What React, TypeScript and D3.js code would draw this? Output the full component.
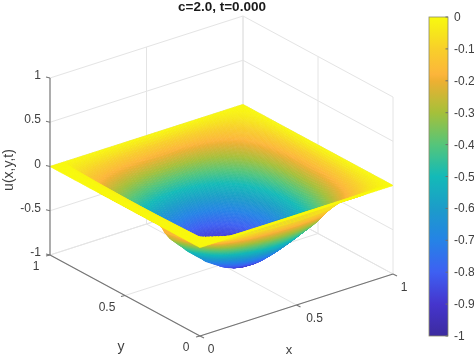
import React from "react";
import * as d3 from "d3";

const titleText = "c=2.0, t=0.000";
const zTicks = [1, 0.5, 0, -0.5, -1];
const xTicks = [0, 0.5, 1];
const yTicks = [0, 0.5, 1];
const barTicks = [0, -0.1, -0.2, -0.3, -0.4, -0.5, -0.6, -0.7, -0.8, -0.9, -1];
const xCoords = [0, 0.04, 0.065, 0.085, 0.1, 0.15, 0.2, 0.25, 0.3, 0.35, 0.4, 0.45, 0.5, 0.55, 0.6, 0.65, 0.7, 0.75, 0.8, 0.85, 0.9, 0.95, 1];
const xDepth = [0, 0.005, 0.02, 0.24, 0.31, 0.44, 0.56, 0.67, 0.77, 0.85, 0.92, 0.97, 0.995, 1, 0.965, 0.905, 0.82, 0.715, 0.595, 0.46, 0.312, 0.156, 0];
const yCoords = [0, 0.018, 0.03, 0.06, 0.1, 0.15, 0.2, 0.25, 0.3, 0.35, 0.4, 0.45, 0.5, 0.55, 0.6, 0.65, 0.7, 0.75, 0.8, 0.85, 0.9, 0.95, 1];
const yDepth = [0, 0.004, 0.11, 0.2, 0.32, 0.46, 0.59, 0.707, 0.809, 0.891, 0.951, 0.988, 1, 0.988, 0.951, 0.891, 0.809, 0.707, 0.588, 0.454, 0.309, 0.156, 0];
const leftSlopeAt = [0, 0.2, 0.37, 1];
const leftSlope = [6, 6, 1.8, 1.8];
const rightSlopeAt = [0, 0.55, 0.75, 1];
const rightSlope = [6, 6, 1.4, 1.4];
const cornerFlatAt = [0.95, 1.05];
const cornerFlat = [0.02, 1];
const colorValues = [0, -0.05, -0.1, -0.18, -0.2, -0.3, -0.4, -0.5, -0.6, -0.7, -0.8, -0.9, -1];
const colorHex = ["#f8f90e", "#f7e51c", "#f8cf2a", "#fcb53b", "#eeb032", "#a5c03a", "#55c57a", "#13bab8", "#1c9cc9", "#2583e6", "#3e60f2", "#4535cd", "#3c2b9f"];

const colorScale = d3.scaleLinear<string>().domain(colorValues).range(colorHex).interpolate(d3.interpolateRgb).clamp(true);
const fx = d3.scaleLinear().domain(xCoords).range(xDepth);
const fy = d3.scaleLinear().domain(yCoords).range(yDepth);
const kLeft = d3.scaleLinear().domain(leftSlopeAt).range(leftSlope).clamp(true);
const kRight = d3.scaleLinear().domain(rightSlopeAt).range(rightSlope).clamp(true);
const corner = d3.scaleLinear().domain(cornerFlatAt).range(cornerFlat).clamp(true);

const sxX = d3.scaleLinear().domain([0, 1]).range([0, 193]);
const sxY = d3.scaleLinear().domain([0, 1]).range([0, -150]);
const syX = d3.scaleLinear().domain([0, 1]).range([0, -62]);
const syY = d3.scaleLinear().domain([0, 1]).range([0, -81]);
const syZ = d3.scaleLinear().domain([-1, 1]).range([0, -177]);
const barY = d3.scaleLinear().domain([0, -1]).range([17, 336]);

function project(x: number, y: number, z: number): [number, number] {
  return [200 + sxX(x) + sxY(y), 336 + syX(x) + syY(y) + syZ(z)];
}
const seg = (a: [number, number], b: [number, number]) => ({ x1: a[0], y1: a[1], x2: b[0], y2: b[1] });

const N = 140;
const surf = (x: number, y: number) => {
  const depth = Math.min(fx(x) * fy(y), kLeft(y) * x, kRight(x) * y);
  return -depth * corner(x / 0.2 + y / 0.13);
};
const cells: { pts: string; fill: string }[] = [];
for (let s = 2 * N - 2; s >= 0; s--) {
  for (let i = 0; i < N; i++) {
    const j = s - i;
    if (j < 0 || j >= N) continue;
    const x0 = i / N, x1 = (i + 1) / N, y0 = j / N, y1 = (j + 1) / N;
    const c = [[x0, y0], [x1, y0], [x1, y1], [x0, y1]];
    const pts = c.map(([a, b]) => project(a, b, surf(a, b)).map((v) => v.toFixed(2)).join(",")).join(" ");
    cells.push({ pts, fill: colorScale(surf((x0 + x1) / 2, (y0 + y1) / 2)) });
  }
}

const gridColor = "#e4e4e4";
const axisColor = "#747474";
const textColor = "#404040";
const fmt = (v: number) => String(v);

export default function App() {
  const gridLines: { x1: number; y1: number; x2: number; y2: number }[] = [];
  zTicks.forEach((z) => {
    gridLines.push(seg(project(0, 1, z), project(1, 1, z)));
    gridLines.push(seg(project(1, 1, z), project(1, 0, z)));
  });
  xTicks.forEach((x) => {
    gridLines.push(seg(project(x, 1, -1), project(x, 1, 1)));
    gridLines.push(seg(project(x, 0, -1), project(x, 1, -1)));
  });
  yTicks.forEach((y) => {
    gridLines.push(seg(project(1, y, -1), project(1, y, 1)));
    gridLines.push(seg(project(0, y, -1), project(1, y, -1)));
  });
  const axisSegs = [
    seg(project(0, 1, -1), project(0, 1, 1)),
    seg(project(0, 1, -1), project(0, 0, -1)),
    seg(project(0, 0, -1), project(1, 0, -1)),
  ];
  const tickSegs: { x1: number; y1: number; x2: number; y2: number }[] = [];
  zTicks.forEach((z) => {
    const p = project(0, 1, z);
    tickSegs.push(seg(p, [p[0] - 4, p[1] - 1]));
  });
  xTicks.forEach((x) => {
    const p = project(x, 0, -1);
    tickSegs.push(seg(p, [p[0] + 4, p[1] + 2]));
  });
  yTicks.forEach((y) => {
    const p = project(0, y, -1);
    tickSegs.push(seg(p, [p[0] - 4, p[1] + 1]));
  });
  const font = "'Liberation Sans', Arial, sans-serif";
  const gradId = "bar";
  const gradStops = d3.range(0, 1.0001, 0.02);
  return (
    <svg width={474} height={357} viewBox="0 0 474 357" style={{ position: "fixed", left: 0, top: 0, display: "block", background: "#fff", filter: "blur(0.35px)" }} fontFamily={font}>
      <defs>
        <linearGradient id={gradId} x1="0" y1="0" x2="0" y2="1">
          {gradStops.map((t) => (
            <stop key={t} offset={t} stopColor={colorScale(-t)} />
          ))}
        </linearGradient>
      </defs>
      <g stroke={gridColor} strokeWidth={1} fill="none">
        {gridLines.map((l, i) => (
          <line key={i} {...l} />
        ))}
      </g>
      <g>
        {cells.map((c, i) => (
          <polygon key={i} points={c.pts} fill={c.fill} stroke={c.fill} strokeWidth={0.6} strokeLinejoin="round" />
        ))}
      </g>
      <g stroke={axisColor} strokeWidth={1.1} fill="none">
        {axisSegs.map((l, i) => (
          <line key={i} {...l} />
        ))}
        {tickSegs.map((l, i) => (
          <line key={i} {...l} />
        ))}
      </g>
      <text x={222} y={11} textAnchor="middle" fontSize={13.5} fontWeight="bold" fill="#1a1a1a">{titleText}</text>
      <g fontSize={12} fill={textColor}>
        {zTicks.map((z) => {
          const p = project(0, 1, z);
          return <text key={z} x={p[0] - 9} y={p[1] + 1} textAnchor="end">{fmt(z)}</text>;
        })}
        {xTicks.map((x) => {
          const p = project(x, 0, -1);
          return <text key={x} x={p[0] + 11 + (x === 0.5 ? 7 : 0)} y={p[1] + 17} textAnchor="middle">{fmt(x)}</text>;
        })}
        {yTicks.map((y) => {
          const p = project(0, y, -1);
          return <text key={y} x={p[0] - 14 - (y === 0.5 ? 4 : 0)} y={p[1] + 15} textAnchor="middle">{fmt(y)}</text>;
        })}
      </g>
      <g fontSize={14} fill={textColor}>
        <text x={289} y={354} textAnchor="middle" fontSize={13}>x</text>
        <text x={121} y={351} textAnchor="middle">y</text>
        <text transform="translate(13,170) rotate(-90)" textAnchor="middle">u(x,y,t)</text>
      </g>
      <rect x={429} y={barY(0)} width={19} height={barY(-1) - barY(0)} fill={`url(#${gradId})`} stroke="#8a8a6a" strokeWidth={0.8} />
      <g stroke="#6e6e6e" strokeWidth={1}>
        {barTicks.map((t) => (
          <line key={t} x1={445.5} x2={448} y1={barY(t)} y2={barY(t)} />
        ))}
      </g>
      <g fontSize={12} fill={textColor}>
        {barTicks.map((t) => (
          <text key={t} x={454} y={barY(t) + 4}>{fmt(t)}</text>
        ))}
      </g>
    </svg>
  );
}
